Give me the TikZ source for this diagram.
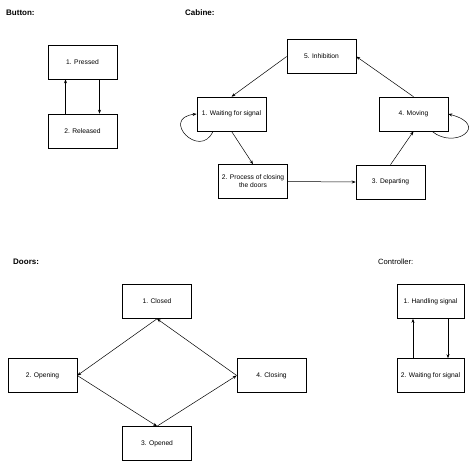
\documentclass[tikz,border=0pt]{standalone}
\usepackage{fontspec}
\setmainfont{Liberation Sans}
\usetikzlibrary{arrows.meta}

\tikzset{
  stato/.style={draw, line width=0.6pt, minimum width=69pt, minimum height=34pt,
    inner sep=1pt, align=center, font=\fontsize{6.7}{8}\selectfont},
  titolo/.style={anchor=west, inner sep=0pt, font=\fontsize{8}{9}\selectfont\bfseries},
  freccia/.style={-{Stealth[length=4pt,width=3pt]}, line width=0.5pt}
}

\begin{document}
\begin{tikzpicture}[x=1pt, y=-1pt]
            \useasboundingbox (0,0) rectangle (474,467);

            % Titoli
            \node[titolo] (tButton) at (6,13) {Button:};
            \node[titolo] (tCabine) at (185,13) {Cabine:};
            \node[titolo] (tDoors) at (13,262) {Doors:};
            \node[titolo, font=\fontsize{7.6}{9}\selectfont] (tController) at (378,262) {Controller:};

            % Button
            \node[stato] (pressed) at (82.5,62) {1. Pressed};
            \node[stato] (released) at (82.5,131) {2. Released};
            \draw[freccia] ([xshift=-17pt]released.north) -- ([xshift=-17pt]pressed.south);
            \draw[freccia] ([xshift=17pt]pressed.south) -- ([xshift=17pt]released.north);

            % Cabine
            \node[stato] (inhib) at (321.5,56.5) {5. Inhibition};
            \node[stato] (waiting) at (231.5,114) {1. Waiting for signal};
            \node[stato] (moving) at (413.5,114) {4. Moving};
            \node[stato] (closingdoors) at (253,181.5) {2. Process of closing\\the doors};
            \node[stato] (departing) at (390.5,182) {3. Departing};
            \draw[freccia] (inhib.west) -- (waiting.north);
            \draw[freccia] (waiting.south) -- (closingdoors.north);
            \draw[freccia] (closingdoors.east) -- (departing.west);
            \draw[freccia] (departing.north) -- (moving.south);
            \draw[freccia] (moving.north) -- (inhib.east);
            \draw[freccia] ([xshift=-18.5pt]waiting.south) .. controls +(-13,29) and +(-37,4) .. (waiting.west);
            \draw[freccia] ([xshift=18.5pt]moving.south) .. controls +(23,19) and +(42,11) .. (moving.east);

            % Doors
            \node[stato] (closed) at (157,301.5) {1. Closed};
            \node[stato] (opening) at (42.5,375.5) {2. Opening};
            \node[stato] (closing) at (271.5,375.5) {4. Closing};
            \node[stato] (opened) at (157,443.5) {3. Opened};
            \draw[freccia] (closed.south) -- (opening.east);
            \draw[freccia] (opening.east) -- (opened.north);
            \draw[freccia] (opened.north) -- (closing.west);
            \draw[freccia] (closing.west) -- (closed.south);

            % Controller
            \node[stato, minimum width=67pt] (handling) at (430.5,301.5) {1. Handling signal};
            \node[stato, minimum width=67pt] (waitsignal) at (430.5,375.5) {2. Waiting for signal};
            \draw[freccia] ([xshift=-17.5pt]waitsignal.north) -- ([xshift=-17.5pt]handling.south);
            \draw[freccia] ([xshift=17.5pt]handling.south) -- ([xshift=17.5pt]waitsignal.north);
\end{tikzpicture}
\end{document}
